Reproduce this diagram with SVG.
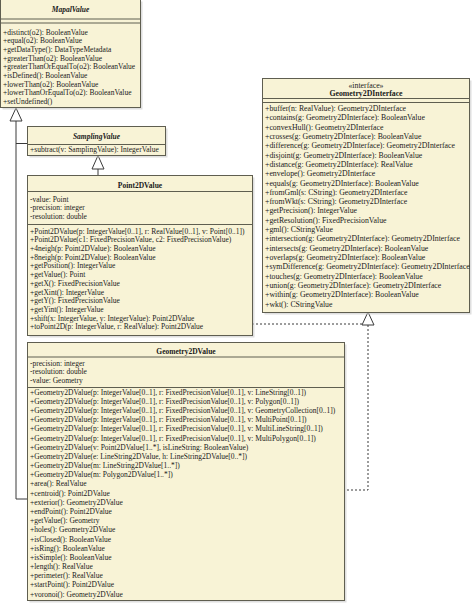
<svg xmlns="http://www.w3.org/2000/svg" width="474" height="607" viewBox="0 0 474 607">
<style>
.box{fill:#f8f3d6;stroke:#5f5e50;stroke-width:1}
.sh{fill:#c9c9c9;opacity:0.6}
.div{stroke:#5f5e50;stroke-width:1}
text{font-family:"Liberation Serif","Times New Roman",serif;font-size:7.5px;fill:#1a1a1a}
.hd{font-weight:bold;text-anchor:middle}
.ab{font-style:italic}
.st{text-anchor:middle}
.big{font-size:7.8px}
.ln{fill:none;stroke:#3a3a3a;stroke-width:1}
.dt{fill:none;stroke:#3a3a3a;stroke-width:1;stroke-dasharray:2,2}
.tri{fill:#ffffff;stroke:#3a3a3a;stroke-width:1}
</style>
<rect width="474" height="607" fill="#ffffff"/>

<g id="connectors">
<path class="ln" d="M16,121 V499 H27"/>
<path class="ln" d="M16,143.5 H27"/>
<polygon class="tri" points="16,108 10,121 22,121"/>
<path class="ln" d="M98,169 V175"/>
<polygon class="tri" points="98,155.5 92,169 104,169"/>
<path class="dt" d="M252,324 H368"/>
<path class="dt" d="M368,325 V490 H344"/>
<polygon class="tri" points="368,312 362,325 374,325"/>
</g>

<g id="MapalValue">
<rect class="sh" x="2.5" y="1.5" width="140" height="108"/>
<rect class="box" x="0.5" y="-0.5" width="140" height="108"/>
<line class="div" x1="0.5" y1="19" x2="140.5" y2="19"/>
<line class="div" x1="0.5" y1="23" x2="140.5" y2="23"/>
<text class="hd ab" x="70.5" y="12">MapalValue</text>
<text x="3" y="34.6">+distinct(o2): BooleanValue</text>
<text x="3" y="43.25">+equal(o2): BooleanValue</text>
<text x="3" y="51.9">+getDataType(): DataTypeMetadata</text>
<text x="3" y="60.55">+greaterThan(o2): BooleanValue</text>
<text x="3" y="69.2">+greaterThanOrEqualTo(o2): BooleanValue</text>
<text x="3" y="77.85">+isDefined(): BooleanValue</text>
<text x="3" y="86.5">+lowerThan(o2): BooleanValue</text>
<text x="3" y="95.15">+lowerThanOrEqualTo(o2): BooleanValue</text>
<text x="3" y="103.8">+setUndefined()</text>
</g>

<g id="SamplingValue">
<rect class="sh" x="29.5" y="128.5" width="138" height="29"/>
<rect class="box" x="27.5" y="126.5" width="138" height="29"/>
<line class="div" x1="27.5" y1="144.5" x2="165.5" y2="144.5"/>
<text class="hd ab" x="96.5" y="138.8">SamplingValue</text>
<text x="30" y="152">+subtract(v: SamplingValue): IntegerValue</text>
</g>

<g id="Point2DValue">
<rect class="sh" x="29.5" y="177.5" width="225" height="160"/>
<rect class="box" x="27.5" y="175.5" width="225" height="160"/>
<line class="div" x1="27.5" y1="191.5" x2="252.5" y2="191.5"/>
<line class="div" x1="27.5" y1="224.5" x2="252.5" y2="224.5"/>
<text class="hd" x="140" y="187.8">Point2DValue</text>
<text x="30" y="201.7">-value: Point</text>
<text x="30" y="210.3">-precision: integer</text>
<text x="30" y="219">-resolution: double</text>
<text x="30" y="233.6">+Point2DValue(p: IntegerValue[0..1], r: RealValue[0..1], v: Point[0..1])</text>
<text x="30" y="242.3">+Point2DValue(c1: FixedPrecisionValue, c2: FixedPrecisionValue)</text>
<text x="30" y="251">+4neigh(p: Point2DValue): BooleanValue</text>
<text x="30" y="259.7">+8neigh(p: Point2DValue): BooleanValue</text>
<text x="30" y="268.4">+getPosition(): IntegerValue</text>
<text x="30" y="277.1">+getValue(): Point</text>
<text x="30" y="285.8">+getX(): FixedPrecisionValue</text>
<text x="30" y="294.5">+getXint(): IntegerValue</text>
<text x="30" y="303.2">+getY(): FixedPrecisionValue</text>
<text x="30" y="311.9">+getYint(): IntegerValue</text>
<text x="30" y="320.6">+shift(x: IntegerValue, y: IntegerValue): Point2DValue</text>
<text x="30" y="329.3">+toPoint2D(p: IntegerValue, r: RealValue): Point2DValue</text>
</g>

<g id="Geometry2DInterface">
<rect class="sh" x="264.5" y="80.5" width="207" height="234"/>
<rect class="box" x="262.5" y="78.5" width="207" height="234"/>
<line class="div" x1="262.5" y1="98.5" x2="469.5" y2="98.5"/>
<line class="div" x1="262.5" y1="102.5" x2="469.5" y2="102.5"/>
<text class="st big" x="366" y="87.6">«interface»</text>
<text class="hd big" x="366" y="95.6">Geometry2DInterface</text>
<text class="big" x="265" y="110.9">+buffer(n: RealValue): Geometry2DInterface</text>
<text class="big" x="265" y="120.2">+contains(g: Geometry2DInterface): BooleanValue</text>
<text class="big" x="265" y="129.5">+convexHull(): Geometry2DInterface</text>
<text class="big" x="265" y="138.9">+crosses(g: Geometry2DInterface): BooleanValue</text>
<text class="big" x="265" y="148.2">+difference(g: Geometry2DInterface): Geometry2DInterface</text>
<text class="big" x="265" y="157.5">+disjoint(g: Geometry2DInterface): BooleanValue</text>
<text class="big" x="265" y="166.8">+distance(g: Geometry2DInterface): RealValue</text>
<text class="big" x="265" y="176.1">+envelope(): Geometry2DInterface</text>
<text class="big" x="265" y="185.5">+equals(g: Geometry2DInterface): BooleanValue</text>
<text class="big" x="265" y="194.8">+fromGml(s: CString): Geometry2DInterface</text>
<text class="big" x="265" y="204.1">+fromWkt(s: CString): Geometry2DInterface</text>
<text class="big" x="265" y="213.4">+getPrecision(): IntegerValue</text>
<text class="big" x="265" y="222.7">+getResolution(): FixedPrecisionValue</text>
<text class="big" x="265" y="232.1">+gml(): CStringValue</text>
<text class="big" x="265" y="241.4">+intersection(g: Geometry2DInterface): Geometry2DInterface</text>
<text class="big" x="265" y="250.7">+intersects(g: Geometry2DInterface): BooleanValue</text>
<text class="big" x="265" y="260">+overlaps(g: Geometry2DInterface): BooleanValue</text>
<text class="big" x="265" y="269.3">+symDifference(g: Geometry2DInterface): Geometry2DInterface</text>
<text class="big" x="265" y="278.7">+touches(g: Geometry2DInterface): BooleanValue</text>
<text class="big" x="265" y="288">+union(g: Geometry2DInterface): Geometry2DInterface</text>
<text class="big" x="265" y="297.3">+within(g: Geometry2DInterface): BooleanValue</text>
<text class="big" x="265" y="306.6">+wkt(): CStringValue</text>
</g>

<g id="Geometry2DValue">
<rect class="sh" x="29.5" y="344.5" width="317" height="258"/>
<rect class="box" x="27.5" y="342.5" width="317" height="258"/>
<line class="div" x1="27.5" y1="357" x2="344.5" y2="357"/>
<line class="div" x1="27.5" y1="387.5" x2="344.5" y2="387.5"/>
<text class="hd" x="186" y="353.5">Geometry2DValue</text>
<text x="30" y="365.9">-precision: integer</text>
<text x="30" y="374.3">-resolution: double</text>
<text x="30" y="382.6">-value: Geometry</text>
<text x="30" y="394.6">+Geometry2DValue(p: IntegerValue[0..1], r: FixedPrecisionValue[0..1], v: LineString[0..1])</text>
<text x="30" y="403.8">+Geometry2DValue(p: IntegerValue[0..1], r: FixedPrecisionValue[0..1], v: Polygon[0..1])</text>
<text x="30" y="413">+Geometry2DValue(p: IntegerValue[0..1], r: FixedPrecisionValue[0..1], v: GeometryCollection[0..1])</text>
<text x="30" y="422.1">+Geometry2DValue(p: IntegerValue[0..1], r: FixedPrecisionValue[0..1], v: MultiPoint[0..1])</text>
<text x="30" y="431.3">+Geometry2DValue(p: IntegerValue[0..1], r: FixedPrecisionValue[0..1], v: MultiLineString[0..1])</text>
<text x="30" y="440.5">+Geometry2DValue(p: IntegerValue[0..1], r: FixedPrecisionValue[0..1], v: MultiPolygon[0..1])</text>
<text x="30" y="449.7">+Geometry2DValue(v: Point2DValue[1..*], isLineString: BooleanValue)</text>
<text x="30" y="458.9">+Geometry2DValue(e: LineString2DValue, h: LineString2DValue[0..*])</text>
<text x="30" y="468">+Geometry2DValue(m: LineString2DValue[1..*])</text>
<text x="30" y="477.2">+Geometry2DValue(m: Polygon2DValue[1..*])</text>
<text x="30" y="486.4">+area(): RealValue</text>
<text x="30" y="495.6">+centroid(): Point2DValue</text>
<text x="30" y="504.8">+exterior(): Geometry2DValue</text>
<text x="30" y="513.9">+endPoint(): Point2DValue</text>
<text x="30" y="523.1">+getValue(): Geometry</text>
<text x="30" y="532.3">+holes(): Geometry2DValue</text>
<text x="30" y="541.5">+isClosed(): BooleanValue</text>
<text x="30" y="550.7">+isRing(): BooleanValue</text>
<text x="30" y="559.8">+isSimple(): BooleanValue</text>
<text x="30" y="569">+length(): RealValue</text>
<text x="30" y="578.2">+perimeter(): RealValue</text>
<text x="30" y="587.4">+startPoint(): Point2DValue</text>
<text x="30" y="596.6">+voronoi(): Geometry2DValue</text>
</g>
</svg>
